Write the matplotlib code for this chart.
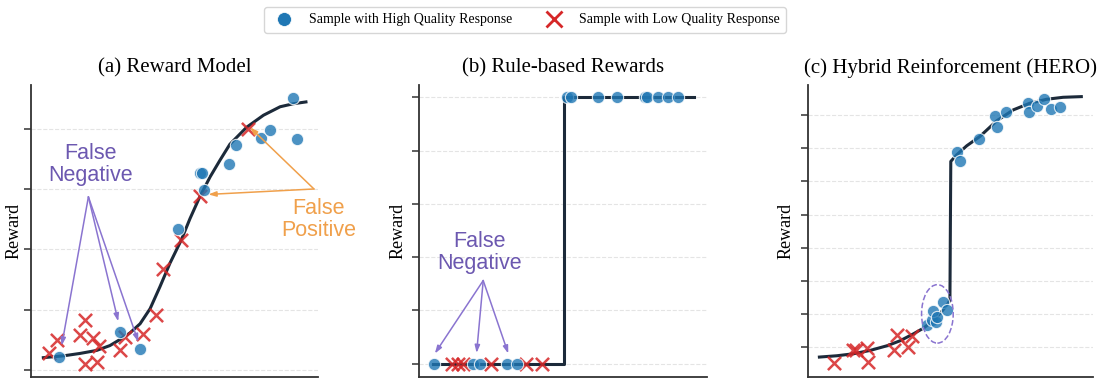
import matplotlib
matplotlib.use('Agg')
import matplotlib.pyplot as plt
from matplotlib.lines import Line2D
from matplotlib.patches import Ellipse

# colours
BLUE = '#1f77b4'
RED = '#d62728'
CURVE = '#1c2a3a'
PURPLE = '#6c58b0'
PURPLE_ARROW = '#8a74d0'
ORANGE = '#f0a04b'
SPINE = '#333333'

# ---- (a) reward model ----
a_curve_x = [0.43, 1.13, 1.71, 2.29, 2.75, 3.10, 3.45, 3.80, 4.15, 4.49, 4.84,
             5.23, 5.54, 5.89, 6.24, 6.59, 6.93, 7.51, 8.10, 8.68, 9.14, 9.58]
a_curve_y = [0.21, 0.24, 0.28, 0.33, 0.41, 0.51, 0.62, 0.77, 1.02, 1.38, 1.77,
             2.15, 2.51, 2.88, 3.20, 3.48, 3.74, 4.02, 4.22, 4.36, 4.41, 4.44]
a_hi_x = [0.99, 3.10, 3.80, 5.13, 5.89, 5.95, 6.03, 6.90, 7.13, 8.01, 8.33, 9.12, 9.28]
a_hi_y = [0.22, 0.64, 0.36, 2.33, 3.26, 3.27, 2.98, 3.42, 3.72, 3.85, 3.98, 4.51, 3.82]
a_lo_x = [0.64, 0.89, 1.71, 1.88, 2.15, 2.38, 1.88, 2.29, 3.10, 3.28, 3.89, 4.36,
          4.61, 5.23, 5.89, 7.57]
a_lo_y = [0.29, 0.50, 0.59, 0.83, 0.54, 0.41, 0.11, 0.14, 0.33, 0.55, 0.60, 0.92,
          1.68, 2.15, 2.88, 4.00]
a_ticks = [0, 1, 2, 3, 4]

# ---- (b) rule-based rewards ----
b_step_x = [0.49, 5.02, 5.02, 9.54]
b_step_y = [0, 0, 5, 5]
b_hi_x = [0.52, 1.88, 2.12, 3.06, 3.41, 5.15, 5.29, 6.23, 6.89, 7.83, 7.93, 8.29, 8.64, 8.99]
b_hi_y = [0, 0, 0, 0, 0, 5, 5, 5, 5, 5, 5, 5, 5, 5]
b_lo_x = [1.15, 1.35, 1.53, 2.51, 3.72, 4.28]
b_lo_y = [0, 0, 0, 0, 0, 0]
b_ticks = [0, 1, 2, 3, 4, 5]

# ---- (c) hybrid (HERO) ----
c_curve_x = [0.40, 1.02, 1.60, 2.18, 2.77, 3.23, 3.70, 4.05, 4.40, 4.69, 4.92, 4.98,
             5.01, 5.22, 5.57, 6.03, 6.62, 7.20, 7.78, 8.37, 8.95, 9.59]
c_curve_y = [-0.29, -0.25, -0.19, -0.09, 0.05, 0.20, 0.41, 0.58, 0.81, 1.08, 1.33, 1.43,
             5.60, 5.80, 6.07, 6.35, 6.82, 7.15, 7.35, 7.47, 7.53, 7.55]
c_hi_x = [4.17, 4.34, 4.49, 4.40, 4.52, 4.75, 4.87,
          5.24, 5.33, 6.01, 6.56, 6.62, 6.94, 7.72, 7.76, 8.04, 8.27, 8.54, 8.83]
c_hi_y = [0.68, 0.83, 0.78, 1.11, 0.93, 1.36, 1.13,
          5.87, 5.62, 6.28, 6.97, 6.65, 7.10, 7.37, 7.10, 7.28, 7.48, 7.17, 7.23]
c_lo_x = [0.90, 1.58, 1.69, 2.07, 2.12, 3.00, 3.14, 3.52, 3.64]
c_lo_y = [-0.47, -0.07, -0.09, -0.02, -0.45, -0.07, 0.38, 0.01, 0.35]
c_ticks = [0, 1, 2, 3, 4, 5, 6, 7]

SERIF = 'Liberation Serif'
SANS = 'Liberation Sans'

fig = plt.figure(figsize=(11.06, 3.88), dpi=100)
H = 388.0
W = 1106.0


def make_axes(left, right, ylim, ticks, title, label_x):
    ax = fig.add_axes([left / W, 11 / H, (right - left) / W, 292 / H])
    ax.set_xlim(0, 10)
    ax.set_ylim(*ylim)
    ax.set_xticks([])
    ax.set_yticks(ticks)
    ax.set_yticklabels([])
    ax.tick_params(axis='y', length=5, width=1.1, color=SPINE, direction='out')
    for s in ['top', 'right']:
        ax.spines[s].set_visible(False)
    for s in ['left', 'bottom']:
        ax.spines[s].set_color(SPINE)
        ax.spines[s].set_linewidth(1.3)
    ax.grid(axis='y', color='#e4e4e4', linestyle='--', linewidth=0.8)
    ax.set_axisbelow(True)
    ax.set_title(title, fontsize=15, family=SERIF, pad=9)
    ax.set_ylabel('Reward', fontsize=13, family=SERIF)
    ax.yaxis.set_label_coords(label_x, 0.5)
    return ax


def scatter(ax, hx, hy, lx, ly):
    ax.scatter(lx, ly, marker='x', s=90, color=RED, linewidths=1.8, alpha=0.85, zorder=3)
    ax.scatter(hx, hy, marker='o', s=78, color=BLUE, alpha=0.8,
               edgecolors='white', linewidths=0.8, zorder=4)


def arrow(ax, start, end, color):
    ax.annotate('', xy=end, xytext=start,
                arrowprops=dict(arrowstyle='-|>,head_length=0.45,head_width=0.15',
                                color=color, lw=1.1, shrinkA=0, shrinkB=0), zorder=5)


# panel (a)
ax1 = make_axes(31, 318, (-0.11, 4.72), a_ticks, '(a) Reward Model', -0.031)
ax1.plot(a_curve_x, a_curve_y, color=CURVE, lw=2.2, zorder=2)
scatter(ax1, a_hi_x, a_hi_y, a_lo_x, a_lo_y)
ax1.text(2.08, 3.41, 'False\nNegative', color=PURPLE, fontsize=15.5, family=SANS,
         ha='center', va='center', linespacing=1.05)
for tgt in [(1.07, 0.41), (3.04, 0.81), (3.74, 0.47)]:
    arrow(ax1, (2.0, 2.87), tgt, PURPLE_ARROW)
ax1.text(10.01, 2.50, 'False\nPositive', color=ORANGE, fontsize=15.5, family=SANS,
         ha='center', va='center', linespacing=1.05, clip_on=False)
for tgt in [(7.63, 4.02), (6.18, 2.91)]:
    arrow(ax1, (9.86, 3.0), tgt, ORANGE)

# panel (b)
ax2 = make_axes(419, 707, (-0.25, 5.23), b_ticks, '(b) Rule-based Rewards', -0.042)
ax2.plot(b_step_x, b_step_y, color=CURVE, lw=2.2, zorder=2)
scatter(ax2, b_hi_x, b_hi_y, b_lo_x, b_lo_y)
ax2.text(2.11, 2.09, 'False\nNegative', color=PURPLE, fontsize=15.5, family=SANS,
         ha='center', va='center', linespacing=1.05)
for tgt in [(0.55, 0.19), (2.0, 0.2), (3.10, 0.19)]:
    arrow(ax2, (2.23, 1.56), tgt, PURPLE_ARROW)

# panel (c)
ax3 = make_axes(808, 1093, (-0.89, 7.90), c_ticks, '(c) Hybrid Reinforcement (HERO)', -0.046)
ax3.plot(c_curve_x, c_curve_y, color=CURVE, lw=2.2, zorder=2)
scatter(ax3, c_hi_x, c_hi_y, c_lo_x, c_lo_y)
ax3.add_patch(Ellipse((4.54, 1.01), 1.11, 1.76, fill=False, edgecolor=PURPLE_ARROW,
                      linestyle='--', linewidth=1.1, zorder=5))

# legend
handles = [
    Line2D([], [], marker='o', color=BLUE, linestyle='none', markersize=10,
           markeredgecolor='white', markeredgewidth=0.5),
    Line2D([], [], marker='x', color=RED, linestyle='none', markersize=11,
           markeredgewidth=2),
]
fig.legend(handles, ['Sample with High Quality Response', 'Sample with Low Quality Response'],
           loc='center', bbox_to_anchor=(525 / W, 1 - 20 / H), ncol=2,
           prop={'family': SERIF, 'size': 10}, frameon=True, fancybox=True,
           edgecolor='#cccccc', columnspacing=2.0, handletextpad=0.8, borderpad=0.45)

fig.savefig('out.png', dpi=100)
